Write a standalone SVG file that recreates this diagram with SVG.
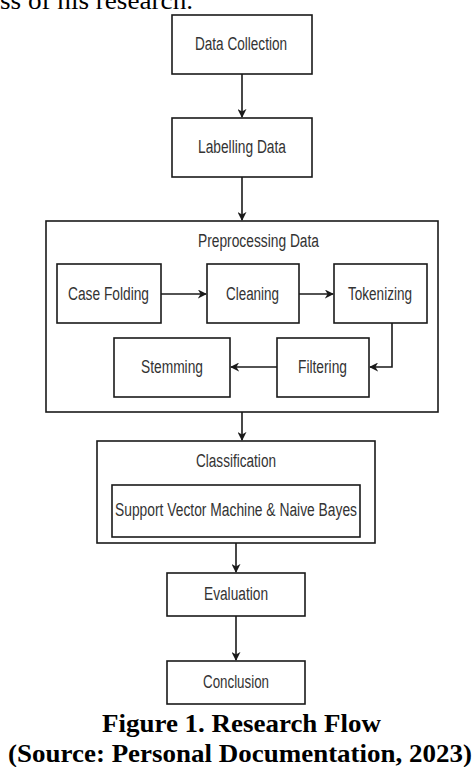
<svg xmlns="http://www.w3.org/2000/svg" width="474" height="767" viewBox="0 0 474 767">
<style>
.box{fill:#fff;stroke:#1a1a1a;stroke-width:1.6}
.lbl{font-family:"Liberation Sans",Arial,sans-serif;font-size:18px;fill:#333;text-anchor:middle}
.cap{font-family:"Liberation Serif","Times New Roman",serif;font-weight:bold;font-size:26px;fill:#000}
.edge{fill:none;stroke:#1a1a1a;stroke-width:1.6}
</style>
<defs>
<marker id="ah" viewBox="0 0 10 10" refX="9" refY="5" markerWidth="9" markerHeight="9" markerUnits="userSpaceOnUse" orient="auto">
<path d="M0,0 L10,5 L0,10 L3,5 Z" fill="#1a1a1a"/>
</marker>
</defs>
<rect width="474" height="767" fill="#fff"/>
<text x="0" y="9" font-family="'Liberation Serif','Times New Roman',serif" font-size="26" fill="#000" textLength="193" lengthAdjust="spacingAndGlyphs">ss of his research.</text>

<g id="data-collection"><rect class="box" x="172" y="15" width="140" height="59"/><text class="lbl" x="241" y="50" textLength="92" lengthAdjust="spacingAndGlyphs">Data Collection</text></g>
<g id="labelling-data"><rect class="box" x="172" y="118" width="140" height="59"/><text class="lbl" x="242" y="153" textLength="88" lengthAdjust="spacingAndGlyphs">Labelling Data</text></g>
<g id="preprocessing"><rect class="box" x="46" y="221" width="392" height="191"/><text class="lbl" x="258.5" y="247" textLength="121" lengthAdjust="spacingAndGlyphs">Preprocessing Data</text></g>
<g id="case-folding"><rect class="box" x="57" y="264" width="104" height="59"/><text class="lbl" x="108.5" y="300" textLength="81" lengthAdjust="spacingAndGlyphs">Case Folding</text></g>
<g id="cleaning"><rect class="box" x="207" y="264" width="92" height="59"/><text class="lbl" x="252.5" y="300" textLength="53" lengthAdjust="spacingAndGlyphs">Cleaning</text></g>
<g id="tokenizing"><rect class="box" x="334" y="264" width="93" height="59"/><text class="lbl" x="380" y="300" textLength="64" lengthAdjust="spacingAndGlyphs">Tokenizing</text></g>
<g id="stemming"><rect class="box" x="114" y="338" width="116" height="59"/><text class="lbl" x="172" y="373" textLength="62" lengthAdjust="spacingAndGlyphs">Stemming</text></g>
<g id="filtering"><rect class="box" x="277" y="338" width="92" height="59"/><text class="lbl" x="322.5" y="373" textLength="49" lengthAdjust="spacingAndGlyphs">Filtering</text></g>
<g id="classification"><rect class="box" x="97" y="441" width="278" height="102"/><text class="lbl" x="236" y="467" textLength="80" lengthAdjust="spacingAndGlyphs">Classification</text></g>
<g id="svm-nb"><rect class="box" x="112" y="485" width="248" height="52"/><text class="lbl" x="236" y="516" textLength="242" lengthAdjust="spacingAndGlyphs">Support Vector Machine &amp; Naive Bayes</text></g>
<g id="evaluation"><rect class="box" x="167" y="573" width="138" height="43"/><text class="lbl" x="236" y="600" textLength="64" lengthAdjust="spacingAndGlyphs">Evaluation</text></g>
<g id="conclusion"><rect class="box" x="167" y="661" width="138" height="43"/><text class="lbl" x="236" y="688" textLength="66" lengthAdjust="spacingAndGlyphs">Conclusion</text></g>

<g id="connectors">
<path class="edge" d="M242,74 V117" marker-end="url(#ah)"/>
<path class="edge" d="M242,177 V220" marker-end="url(#ah)"/>
<path class="edge" d="M161,294 H206" marker-end="url(#ah)"/>
<path class="edge" d="M299,294 H333" marker-end="url(#ah)"/>
<path class="edge" d="M392,323 V367 H370" marker-end="url(#ah)"/>
<path class="edge" d="M277,367 H231" marker-end="url(#ah)"/>
<path class="edge" d="M242,412 V440" marker-end="url(#ah)"/>
<path class="edge" d="M236,543 V572" marker-end="url(#ah)"/>
<path class="edge" d="M236,616 V660" marker-end="url(#ah)"/>
</g>

<text class="cap" x="102" y="732" textLength="279" lengthAdjust="spacingAndGlyphs">Figure 1. Research Flow</text>
<text class="cap" x="8" y="762" textLength="464" lengthAdjust="spacingAndGlyphs">(Source: Personal Documentation, 2023)</text>
</svg>
